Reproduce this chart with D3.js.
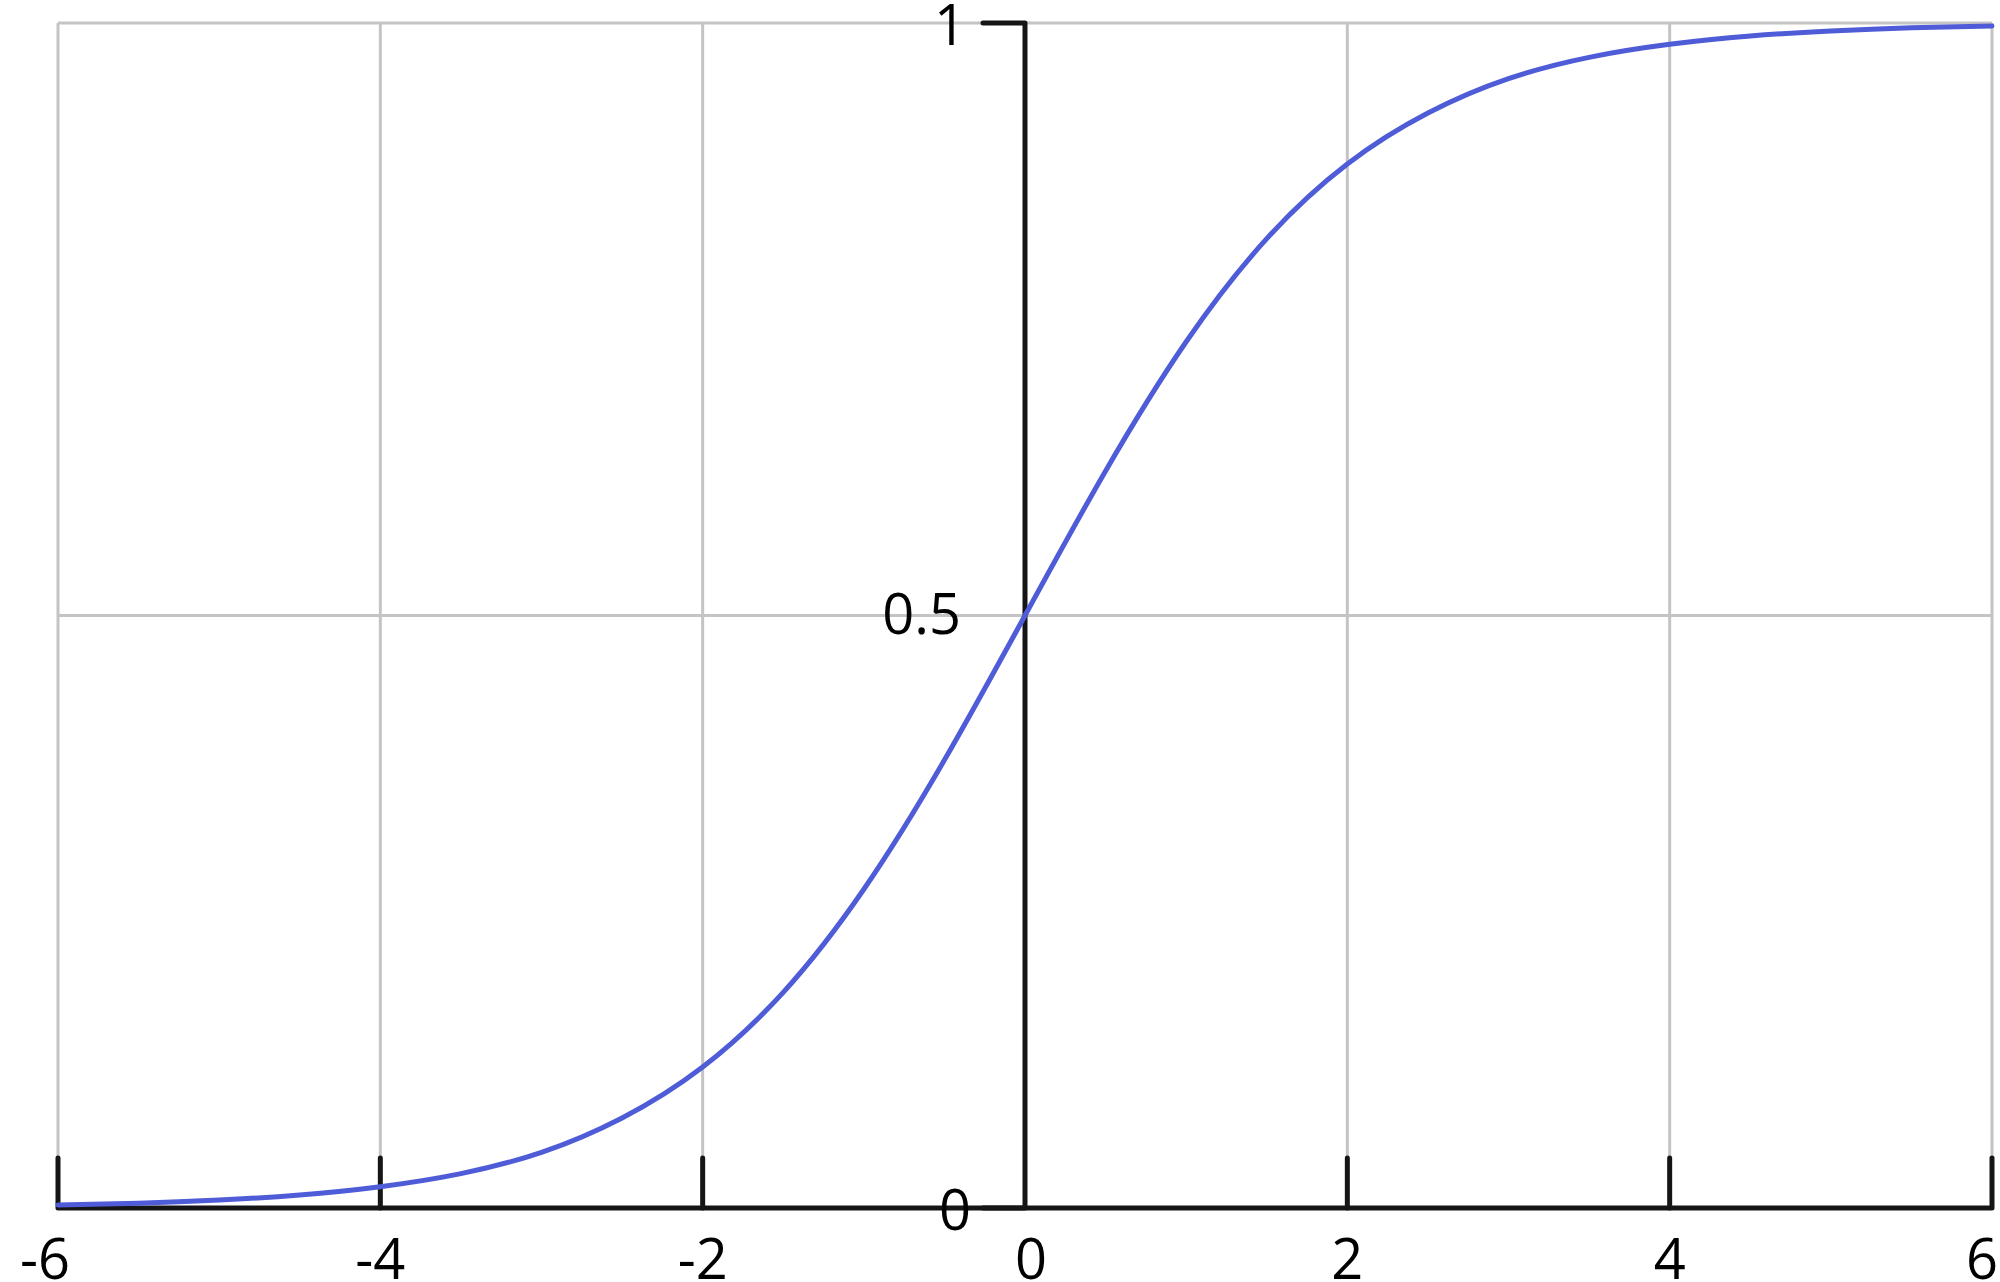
<!DOCTYPE html>
<html>
<head>
<meta charset="utf-8">
<script src="https://cdn.jsdelivr.net/npm/d3@7"></script>
<style>
  html, body { margin: 0; padding: 0; background: #fff; overflow: hidden; }
  text { font-family: "Open Sans", sans-serif; font-size: 56px; fill: #000; }
</style>
</head>
<body>
<div class="chart"></div>
<script>
// values
var xs = [-6, -5.5, -5, -4.5, -4, -3.5, -3, -2.5, -2, -1.5, -1, -0.5, 0, 0.5, 1, 1.5, 2, 2.5, 3, 3.5, 4, 4.5, 5, 5.5, 6];
var ys = [0.0025, 0.004, 0.0067, 0.011, 0.018, 0.029, 0.047, 0.076, 0.119, 0.182, 0.269, 0.378, 0.5, 0.622, 0.731, 0.818, 0.881, 0.924, 0.953, 0.971, 0.982, 0.989, 0.9933, 0.996, 0.9975];
var xTicks = [-6, -4, -2, 0, 2, 4, 6];
var yTicks = [0, 0.5, 1];

var width = 2000,
    height = 1282;

var svg = d3.select(".chart").append("svg")
    .attr("width", width)
    .attr("height", height)
    .style("display", "block");

var x = d3.scaleLinear().domain([-6, 6]).range([58, 1992]);
var y = d3.scaleLinear().domain([0, 1]).range([1208, 23]);

// grid
var grid = svg.append("g").attr("stroke", "#c4c4c4").attr("stroke-width", 3);
grid.selectAll("line.v")
    .data(xTicks)
    .enter().append("line")
    .attr("class", "v")
    .attr("x1", function(d) { return x(d); })
    .attr("x2", function(d) { return x(d); })
    .attr("y1", y(1))
    .attr("y2", y(0));
grid.selectAll("line.h")
    .data(yTicks)
    .enter().append("line")
    .attr("class", "h")
    .attr("x1", x(-6))
    .attr("x2", x(6))
    .attr("y1", function(d) { return y(d); })
    .attr("y2", function(d) { return y(d); });

// axes
var axes = svg.append("g")
    .attr("stroke", "#151515")
    .attr("stroke-width", 5)
    .attr("stroke-linecap", "round")
    .attr("fill", "none");

axes.append("path")
    .attr("stroke-linejoin", "round")
    .attr("d", "M" + x(-6) + "," + (y(0) - 50) + "V" + y(0) + "H" + x(6) + "V" + (y(0) - 50));

axes.selectAll("line.xt")
    .data(xTicks.filter(function(d) { return d !== 0 && Math.abs(d) !== 6; }))
    .enter().append("line")
    .attr("class", "xt")
    .attr("x1", function(d) { return x(d); })
    .attr("x2", function(d) { return x(d); })
    .attr("y1", y(0) - 50)
    .attr("y2", y(0));

axes.append("path")
    .attr("stroke-linejoin", "round")
    .attr("d", "M" + (x(0) - 42) + "," + y(1) + "H" + x(0) + "V" + y(0) + "H" + (x(0) - 42));

// curve
var line = d3.line()
    .x(function(d, i) { return x(xs[i]); })
    .y(function(d) { return y(d); })
    .curve(d3.curveNatural);

svg.append("path")
    .datum(ys)
    .attr("fill", "none")
    .attr("stroke", "#4f5cd8")
    .attr("stroke-width", 5)
    .attr("stroke-linecap", "round")
    .attr("d", line);

// labels
svg.selectAll("text.xl")
    .data(xTicks)
    .enter().append("text")
    .attr("class", "xl")
    .attr("text-anchor", "middle")
    .attr("x", function(d) {
        if (d === -6) return 45;
        if (d === 6) return 1982;
        return x(d) + (d === 0 ? 6 : 0);
    })
    .attr("y", 1279)
    .text(function(d) { return d; });

svg.selectAll("text.yl")
    .data(yTicks)
    .enter().append("text")
    .attr("class", "yl")
    .attr("text-anchor", "end")
    .attr("dominant-baseline", "central")
    .attr("x", function(d) { return d === 0 ? 971 : (d === 1 ? 966 : 961); })
    .attr("y", function(d) { return y(d) - (d === 0.5 ? 4 : 0); })
    .text(function(d) { return d; });
</script>
</body>
</html>
